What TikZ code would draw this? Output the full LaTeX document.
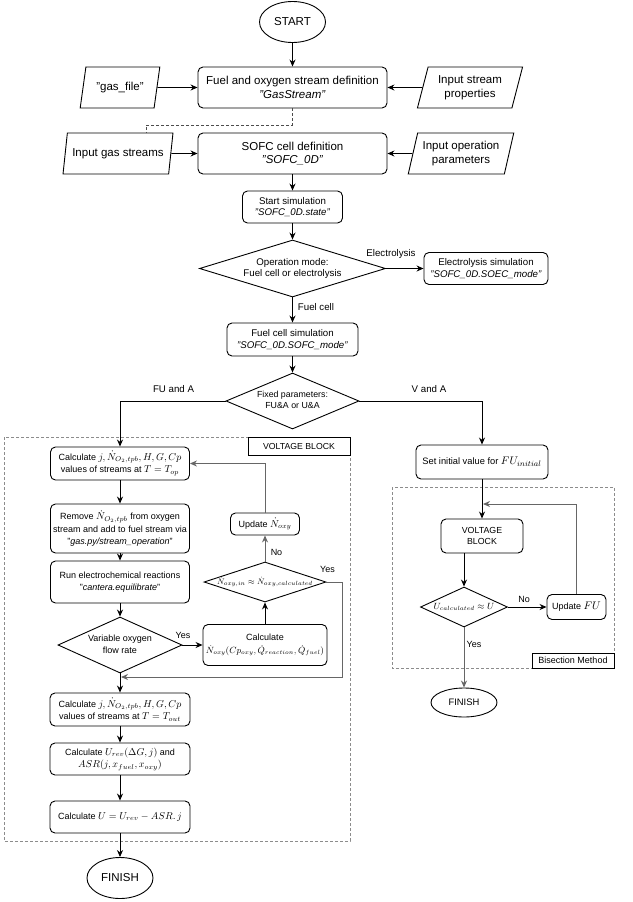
\documentclass[tikz,border=0pt]{standalone}
\usepackage[no-math]{fontspec}
\setmainfont{Liberation Sans}
\usetikzlibrary{shapes.geometric,arrows.meta,calc}
\definecolor{lineg}{HTML}{666666}
\definecolor{dashg}{HTML}{8C8C8C}
\newcommand\fbig{\fontsize{11.5}{13.5}\selectfont}
\newcommand\fmid{\fontsize{9.7}{11.6}\selectfont}
\newcommand\fsm{\fontsize{9}{12.5}\selectfont}
\newcommand\mth[1]{{\fontsize{10}{12.5}\selectfont$#1$}}
\newcommand\mbig[1]{{\fontsize{11}{12.5}\selectfont$#1$}}
\newcommand\dtx[1]{\makebox[0pt]{\begin{tabular}{@{}c@{}}#1\end{tabular}}}
\tikzset{
  base/.style={draw=black, line width=0.9pt, align=center, text=black, inner sep=1pt},
  wh/.style 2 args={minimum width=#1pt, minimum height=#2pt},
  rbox/.style={base, rectangle, rounded corners=5pt},
  ell/.style={base, ellipse},
  para/.style={base, trapezium, trapezium left angle=72, trapezium right angle=108, trapezium stretches=true},
  dia/.style={base, diamond},
  lbl/.style={font=\fmid, text=black, inner sep=0pt},
  arr/.style={draw=black, line width=0.9pt, -{Stealth[length=7pt,width=6pt]}},
  garr/.style={draw=lineg, line width=0.9pt, -{Stealth[length=7pt,width=6pt]}},
  dashln/.style={draw=black!70, line width=0.9pt, dash pattern=on 3pt off 2pt},
  grp/.style={draw=dashg, line width=0.8pt, dash pattern=on 3pt off 2pt},
  tagbox/.style={draw=black, line width=0.8pt, fill=white, inner sep=0pt, text=black}
}
\begin{document}
\begin{tikzpicture}[x=1pt,y=-1pt]
\useasboundingbox (0,0) rectangle (632,902);
% group frames
\draw[grp] (4,437) rectangle (350,841);
\draw[grp] (392,487) rectangle (614,668);
% top part
\node[ell, wh={66}{41}, font=\fbig] (start) at (292.5,22) {START};
\node[rbox, wh={189}{41}, font=\fbig] (fuel) at (292.5,87.5) {Fuel and oxygen stream definition\\\textit{"GasStream"}};
\node[para, wh={80}{41}, font=\fbig] (gasfile) at (120,87.5) {"gas\_file"};
\node[para, wh={106}{41}, font=\fbig] (inprop) at (470,87.5) {Input stream\\properties};
\node[rbox, wh={189}{41}, font=\fbig] (sofc) at (292.5,153.5) {SOFC cell definition\\\textit{"SOFC\_0D"}};
\node[para, wh={110}{41}, font=\fbig] (ingas) at (118,153.5) {Input gas streams};
\node[para, wh={106}{41}, font=\fbig] (inop) at (461,153.5) {Input operation\\parameters};
\node[rbox, wh={100}{32}, font=\fmid] (startsim) at (292.5,207) {Start simulation\\\textit{"SOFC\_0D.state"}};
\node[dia, wh={186}{57}, font=\fmid] (opmode) at (292.5,268.5) {\dtx{Operation mode:\\Fuel cell or electrolysis}};
\node[rbox, wh={124}{32}, font=\fmid] (elec) at (486,268.5) {Electrolysis simulation\\\textit{"SOFC\_0D.SOEC\_mode"}};
\node[rbox, wh={131}{33}, font=\fmid] (fcsim) at (292.5,339.5) {Fuel cell simulation\\\textit{"SOFC\_0D.SOFC\_mode"}};
\node[dia, wh={133}{56}, font=\fontsize{8.8}{10.6}\selectfont] (fixed) at (292.5,401) {\dtx{Fixed parameters:\\FU\&A or U\&A}};
% voltage block
\node[tagbox, wh={102}{18}, font=\fontsize{8.7}{10}\selectfont] (vbtag) at (299,446) {VOLTAGE BLOCK};
\node[rbox, wh={139}{33}, font=\fsm] (calc1) at (120,463.5) {Calculate \mth{j,\dot N_{O_2,tpb},H,G,Cp}\\values of streams at \mth{T=T_{op}}};
\node[rbox, wh={139}{49}, font=\fsm] (remove) at (120,528.5) {Remove \mth{\dot N_{O_2,tpb}} from oxygen\\stream and add to fuel stream via\\"\textit{gas.py/stream\_operation}"};
\node[rbox, wh={139}{42}, font=\fsm] (run) at (120,582) {Run electrochemical reactions\\"\textit{cantera.equilibrate}"};
\node[dia, wh={124}{56}, font=\fsm] (varox) at (120,645) {\dtx{Variable oxygen\\flow rate}};
\node[rbox, wh={124}{41}, font=\fsm] (calcN) at (265,645) {Calculate\\$\dot N_{oxy}(Cp_{oxy},\dot Q_{reaction},\dot Q_{fuel})$};
\node[dia, wh={122}{40}, font=\fontsize{8.5}{10}\selectfont] (noxy) at (265,582) {\dtx{$\dot N_{oxy,in}\approx\dot N_{oxy,calculated}$}};
\node[rbox, wh={69}{22}, font=\fsm] (upd) at (265,524) {Update \mth{\dot N_{oxy}}};
\node[rbox, wh={140}{33}, font=\fsm] (calc2) at (120,709.5) {Calculate \mth{j,\dot N_{O_2,tpb},H,G,Cp}\\values of streams at \mth{T=T_{out}}};
\node[rbox, wh={140}{32}, font=\fsm] (urev) at (120,759) {Calculate \mth{U_{rev}(\Delta G,j)} and\\\mth{ASR(j,x_{fuel},x_{oxy})}};
\node[rbox, wh={140}{32}, font=\fsm] (calcU) at (120,817) {Calculate \mth{U=U_{rev}-ASR.\,j}};
\node[ell, wh={66}{41}, font=\fbig] (fin1) at (120,878) {FINISH};
% right branch
\node[rbox, wh={132}{34}, font=\fontsize{9.3}{11}\selectfont] (setfu) at (482,462) {Set initial value for \mbig{FU_{initial}}};
\node[rbox, wh={82}{34}, font=\fontsize{8.8}{10.6}\selectfont] (vb) at (482,536) {VOLTAGE\\BLOCK};
\node[dia, wh={87}{40}, font=\fsm] (udia) at (464,607) {\dtx{$U_{calculated}\approx U$}};
\node[rbox, wh={59}{25}, font=\fsm] (updfu) at (576.5,607) {Update \mbig{FU}};
\node[ell, wh={66}{29}, font=\fontsize{9.4}{11}\selectfont] (fin2) at (464,702.5) {FINISH};
\node[tagbox, wh={82}{15}, font=\fsm] (bistag) at (573,660.5) {Bisection Method};
% connectors top
\draw[arr] (start) -- (fuel);
\draw[arr] (gasfile) -- (fuel);
\draw[arr] (inprop) -- (fuel);
\coordinate (k1) at (146,125);
\draw[dashln] (fuel.south) |- (k1) -- (k1 |- ingas.north);
\draw[arr] (ingas) -- (sofc);
\draw[arr] (inop) -- (sofc);
\draw[arr] (sofc) -- (startsim);
\draw[arr] (startsim) -- (opmode);
\draw[arr] (opmode.east) -- (elec.west);
\node[lbl] (lelec) at (391,254) {Electrolysis};
\draw[arr] (opmode) -- (fcsim);
\node[lbl] (lfc) at (316,307) {Fuel cell};
\draw[arr] (fcsim) -- (fixed);
\draw[arr] (fixed.west) -| (calc1.north);
\node[lbl] (lfua) at (173.5,389) {FU and A};
\draw[arr] (fixed.east) -| (setfu.north);
\node[lbl] (lva) at (429,389) {V and A};
% voltage block connectors
\draw[arr] (calc1) -- (remove);
\draw[arr] (remove) -- (run);
\draw[arr] (run) -- (varox);
\draw[arr] (varox.east) -- (calcN.west);
\node[lbl, font=\fsm] (lyes1) at (183,635) {Yes};
\draw[arr] (calcN) -- (noxy);
\draw[garr] (noxy) -- (upd);
\node[lbl, font=\fsm] (lno1) at (276.5,552) {No};
\draw[garr] (upd.north) |- (calc1.east);
\coordinate (r1) at (342,677);
\coordinate (m1) at (121,677);
\draw[garr] (noxy.east) -| (r1) -- (m1);
\node[lbl, font=\fsm] (lyes2) at (327.5,569) {Yes};
\draw[arr] (varox) -- (calc2);
\draw[arr] (calc2) -- (urev);
\draw[arr] (urev) -- (calcU);
\draw[arr] (calcU) -- (fin1);
% right connectors
\draw[arr] (setfu) -- (vb);
\draw[arr] (vb.south -| udia.north) -- (udia.north);
\draw[arr] (udia.east) -- (updfu.west);
\node[lbl, font=\fsm] (lno2) at (524,599) {No};
\coordinate (m2) at (483,504);
\draw[garr] (updfu.north) |- (m2);
\draw[garr] (udia) -- (fin2);
\node[lbl, font=\fsm] (lyes3) at (474,644) {Yes};
\end{tikzpicture}
\end{document}
